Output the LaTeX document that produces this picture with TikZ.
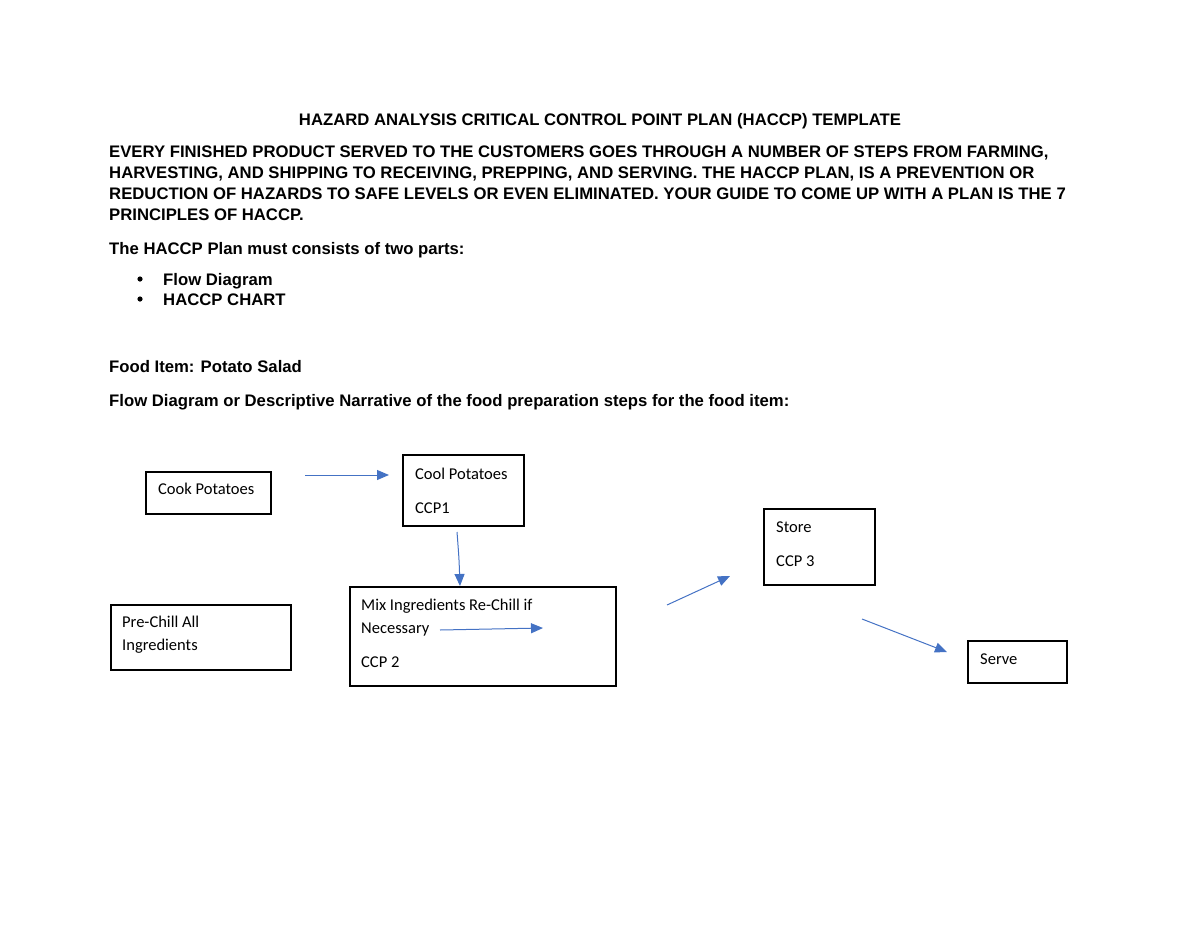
\documentclass[tikz,border=0pt]{standalone}
\usepackage{fontspec}
\setmainfont{Liberation Sans}
\newfontfamily\boxfont{Carlito}
\usetikzlibrary{arrows.meta}
\definecolor{arrowblue}{HTML}{4472C4}
\begin{document}
\begin{tikzpicture}[x=1pt,y=-1pt,
  hdr/.style={anchor=base west,inner sep=0pt,font=\fontsize{16.7}{20}\selectfont\bfseries},
  stepbox/.style={draw=black,line width=2pt},
  boxtxt/.style={anchor=base west,inner sep=0pt,font=\boxfont\fontsize{16.5}{20}\selectfont},
  flow/.style={draw=arrowblue,line width=1pt,-{Triangle[length=12pt,width=10pt]}}]
\useasboundingbox (0,0) rectangle (1200,927);
% heading texts
\node[hdr,anchor=base] (title) at (600,125) {HAZARD ANALYSIS CRITICAL CONTROL POINT PLAN (HACCP) TEMPLATE};
\node[hdr] (p1) at (109,157) {EVERY FINISHED PRODUCT SERVED TO THE CUSTOMERS GOES THROUGH A NUMBER OF STEPS FROM FARMING,};
\node[hdr] (p2) at (109,178) {HARVESTING, AND SHIPPING TO RECEIVING, PREPPING, AND SERVING. THE HACCP PLAN, IS A PREVENTION OR};
\node[hdr] (p3) at (109,199) {REDUCTION OF HAZARDS TO SAFE LEVELS OR EVEN ELIMINATED. YOUR GUIDE TO COME UP WITH A PLAN IS THE 7};
\node[hdr] (p4) at (109,220) {PRINCIPLES OF HACCP.};
\node[hdr] (parts) at (109,254) {The HACCP Plan must consists of two parts:};
\fill (140,279) circle (2.6pt);
\fill (140,299) circle (2.6pt);
\node[hdr] (b1) at (163,285) {Flow Diagram};
\node[hdr] (b2) at (163,305) {HACCP CHART};
\node[hdr] (food) at (109,372) {Food Item: Potato Salad};
\node[hdr] (flowhdr) at (109,406) {Flow Diagram or Descriptive Narrative of the food preparation steps for the food item:};
% boxes
\draw[stepbox] (146,472) rectangle (271,514);
\node[boxtxt] (cook) at (158,494) {Cook Potatoes};
\draw[stepbox] (403,455) rectangle (524,526);
\node[boxtxt] (cool1) at (415,479) {Cool Potatoes};
\node[boxtxt] (cool2) at (415,513) {CCP1};
\draw[stepbox] (764,509) rectangle (875,585);
\node[boxtxt] (store1) at (776,532) {Store};
\node[boxtxt] (store2) at (776,566) {CCP 3};
\draw[stepbox] (111,605) rectangle (291,670);
\node[boxtxt] (pre1) at (122,627) {Pre-Chill All};
\node[boxtxt] (pre2) at (122,650) {Ingredients};
\draw[stepbox] (350,587) rectangle (616,686);
\node[boxtxt] (mix1) at (361,610) {Mix Ingredients Re-Chill if};
\node[boxtxt] (mix2) at (361,633) {Necessary};
\node[boxtxt] (mix3) at (361,667) {CCP 2};
\draw[stepbox] (968,641) rectangle (1067,683);
\node[boxtxt] (serve) at (980,664) {Serve};
% arrows
\coordinate (a1s) at (305,475); \coordinate (a1e) at (389,475);
\coordinate (a2s) at (457,532); \coordinate (a2m) at (459,558); \coordinate (a2e) at (460,586);
\coordinate (a3s) at (440,630); \coordinate (a3e) at (543,628);
\coordinate (a4s) at (667,605); \coordinate (a4e) at (730,576);
\coordinate (a5s) at (862,619); \coordinate (a5e) at (947,652);
\draw[flow] (a1s) -- (a1e);
\draw[flow] (a2s) .. controls (a2m) .. (a2e);
\draw[flow] (a3s) -- (a3e);
\draw[flow] (a4s) -- (a4e);
\draw[flow] (a5s) -- (a5e);
\end{tikzpicture}
\end{document}
